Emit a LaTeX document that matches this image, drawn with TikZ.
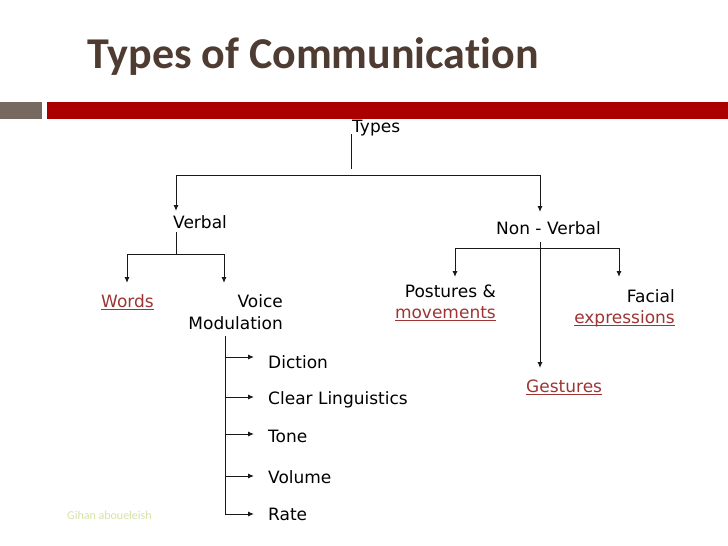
\documentclass[tikz,border=0pt]{standalone}
\usepackage{fontspec}
\setmainfont{DejaVu Sans}
\newfontfamily\titlefont[Ligatures=NoCommon]{Carlito}
\usetikzlibrary{arrows.meta}
\definecolor{titlebrown}{RGB}{78,59,49}
\definecolor{barred}{RGB}{170,0,0}
\definecolor{bargray}{RGB}{118,106,96}
\definecolor{linkred}{RGB}{158,52,52}
\definecolor{footgreen}{RGB}{212,226,165}
\newcommand\linktext[1]{\setbox0\hbox{#1}\rlap{\rule[-2.4pt]{\wd0}{0.9pt}}\box0}
\tikzset{
  lbl/.style={inner sep=0pt, font=\fontsize{17}{20}\selectfont, text=black},
  lnk/.style={lbl, text=linkred},
  conn/.style={draw=black!90, line width=1pt},
  arr/.style={conn, -{Latex[length=6pt,width=5pt]}},
}
\begin{document}
\begin{tikzpicture}[x=1pt,y=-1pt]
\useasboundingbox (0,0) rectangle (728,546);
% header
\node[inner sep=0pt, anchor=base west, text=titlebrown, font=\titlefont\bfseries\fontsize{44}{50}\selectfont] (title) at (87,68) {Types of Communication};
\fill[bargray] (0,102) rectangle (42,119);
\fill[barred] (47,102) rectangle (728,119);
% nodes
\node[lbl, anchor=base west] (types) at (352,132) {Types};
\node[lbl, anchor=base west] (verbal) at (173,228) {Verbal};
\node[lbl, anchor=base west] (nonverbal) at (496,234) {Non - Verbal};
\node[lnk, anchor=base west] (words) at (101,307) {\linktext{Words}};
\node[lbl, anchor=base east] (voice) at (283,307) {Voice};
\node[lbl, anchor=base east] (modulation) at (283,329) {Modulation};
\node[lbl, anchor=base east] (postures) at (496,297) {Postures \&};
\node[lnk, anchor=base east] (movements) at (496,318) {\linktext{movements}};
\node[lbl, anchor=base east] (facial) at (675,302) {Facial};
\node[lnk, anchor=base east] (expressions) at (675,323) {\linktext{expressions}};
\node[lnk, anchor=base west] (gestures) at (526,392) {\linktext{Gestures}};
\node[lbl, anchor=base west] (diction) at (268,368) {Diction};
\node[lbl, anchor=base west] (clear) at (268,404) {Clear Linguistics};
\node[lbl, anchor=base west] (tone) at (268,442) {Tone};
\node[lbl, anchor=base west] (volume) at (268,483) {Volume};
\node[lbl, anchor=base west] (rate) at (268,520) {Rate};
\node[inner sep=0pt, anchor=base west, text=footgreen, font=\titlefont\fontsize{12}{14}\selectfont] (footer) at (67,519) {Gihan aboueleish};
% junction coordinates
\coordinate (tA) at (351,134);
\coordinate (tB) at (351,169);
\coordinate (hL) at (176,175);
\coordinate (hR) at (540,175);
\coordinate (vTip) at (176,211);
\coordinate (nvTip) at (540,212);
\coordinate (vA) at (176,232);
\coordinate (vB) at (176,254);
\coordinate (wJ) at (127,254);
\coordinate (mJ) at (224,254);
\coordinate (wTip) at (127,283);
\coordinate (mTip) at (224,283);
\coordinate (nA) at (540,242);
\coordinate (pJ) at (455,248);
\coordinate (fJ) at (619,248);
\coordinate (pTip) at (455,277);
\coordinate (fTip) at (619,277);
\coordinate (gTip) at (540,368);
\coordinate (mA) at (225,336);
\coordinate (mB) at (225,514);
% connectors
\draw[conn] (tA) -- (tB);
\draw[conn] (hL) -- (hR);
\draw[arr] (hL) -- (vTip);
\draw[arr] (hR) -- (nvTip);
\draw[conn] (vA) -- (vB);
\draw[conn] (wJ) -- (mJ);
\draw[arr] (wJ) -- (wTip);
\draw[arr] (mJ) -- (mTip);
\draw[conn] (pJ) -- (fJ);
\draw[arr] (pJ) -- (pTip);
\draw[arr] (fJ) -- (fTip);
\draw[arr] (nA) -- (gTip);
\draw[conn] (mA) -- (mB);
\draw[arr] (225,357) -- (254,357);
\draw[arr] (225,397) -- (254,397);
\draw[arr] (225,434) -- (254,434);
\draw[arr] (225,476) -- (254,476);
\draw[arr] (mB) -- (254,514);
\end{tikzpicture}
\end{document}
